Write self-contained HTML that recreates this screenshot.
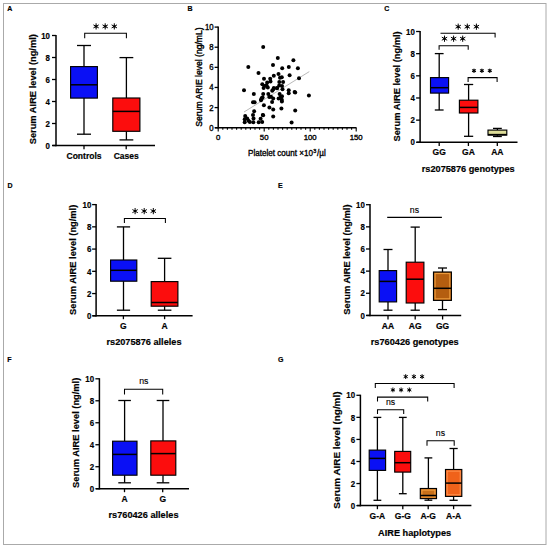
<!DOCTYPE html>
<html><head><meta charset="utf-8"><style>
html,body{margin:0;padding:0;background:#fff;width:550px;height:549px;overflow:hidden;}
body{position:relative;}
svg text{font-family:"Liberation Sans", sans-serif;}

</style></head><body>
<svg width="550" height="549" viewBox="0 0 550 549" style="position:absolute;left:0;top:0">
<rect x="0" y="0" width="550" height="549" fill="#fff"/>
<rect x="3.5" y="3.5" width="542.5" height="541" fill="none" stroke="#aaa" stroke-width="1"/>
<text x="0" y="2.52" font-size="7" font-weight="bold" text-anchor="middle" fill="#000" transform="translate(9.70 8.40)" stroke="#000" stroke-width="0.18">A</text>
<line x1="56.00" y1="34.90" x2="56.00" y2="146.25" stroke="#000" stroke-width="1.5"/>
<line x1="52.50" y1="145.50" x2="155.00" y2="145.50" stroke="#000" stroke-width="1.5"/>
<line x1="52.00" y1="145.50" x2="56.00" y2="145.50" stroke="#000" stroke-width="1.3"/>
<text x="0" y="3.17" font-size="8.8" font-weight="bold" text-anchor="end" fill="#000" transform="translate(50.00 145.50) scale(0.9 1)" stroke="#000" stroke-width="0.18">0</text>
<line x1="52.00" y1="123.50" x2="56.00" y2="123.50" stroke="#000" stroke-width="1.3"/>
<text x="0" y="3.17" font-size="8.8" font-weight="bold" text-anchor="end" fill="#000" transform="translate(50.00 123.50) scale(0.9 1)" stroke="#000" stroke-width="0.18">2</text>
<line x1="52.00" y1="101.50" x2="56.00" y2="101.50" stroke="#000" stroke-width="1.3"/>
<text x="0" y="3.17" font-size="8.8" font-weight="bold" text-anchor="end" fill="#000" transform="translate(50.00 101.50) scale(0.9 1)" stroke="#000" stroke-width="0.18">4</text>
<line x1="52.00" y1="79.50" x2="56.00" y2="79.50" stroke="#000" stroke-width="1.3"/>
<text x="0" y="3.17" font-size="8.8" font-weight="bold" text-anchor="end" fill="#000" transform="translate(50.00 79.50) scale(0.9 1)" stroke="#000" stroke-width="0.18">6</text>
<line x1="52.00" y1="57.50" x2="56.00" y2="57.50" stroke="#000" stroke-width="1.3"/>
<text x="0" y="3.17" font-size="8.8" font-weight="bold" text-anchor="end" fill="#000" transform="translate(50.00 57.50) scale(0.9 1)" stroke="#000" stroke-width="0.18">8</text>
<line x1="52.00" y1="35.50" x2="56.00" y2="35.50" stroke="#000" stroke-width="1.3"/>
<text x="0" y="3.17" font-size="8.8" font-weight="bold" text-anchor="end" fill="#000" transform="translate(50.00 35.50) scale(0.9 1)" stroke="#000" stroke-width="0.18">10</text>
<line x1="84.00" y1="45.50" x2="84.00" y2="66.60" stroke="#000" stroke-width="1.3"/>
<line x1="84.00" y1="98.10" x2="84.00" y2="134.20" stroke="#000" stroke-width="1.3"/>
<line x1="77.00" y1="45.50" x2="91.00" y2="45.50" stroke="#000" stroke-width="1.3"/>
<line x1="77.00" y1="134.20" x2="91.00" y2="134.20" stroke="#000" stroke-width="1.3"/>
<rect x="70.60" y="66.60" width="26.80" height="31.50" fill="#0a10f5" stroke="#000" stroke-width="1.15"/>
<line x1="70.60" y1="84.80" x2="97.40" y2="84.80" stroke="#000" stroke-width="1.5"/>
<line x1="126.40" y1="57.60" x2="126.40" y2="98.00" stroke="#000" stroke-width="1.3"/>
<line x1="126.40" y1="131.30" x2="126.40" y2="139.90" stroke="#000" stroke-width="1.3"/>
<line x1="119.50" y1="57.60" x2="133.30" y2="57.60" stroke="#000" stroke-width="1.3"/>
<line x1="119.50" y1="139.90" x2="133.30" y2="139.90" stroke="#000" stroke-width="1.3"/>
<rect x="112.80" y="98.00" width="27.10" height="33.30" fill="#fc0d0d" stroke="#000" stroke-width="1.15"/>
<line x1="112.80" y1="111.40" x2="139.90" y2="111.40" stroke="#000" stroke-width="1.5"/>
<line x1="84.00" y1="145.50" x2="84.00" y2="149.20" stroke="#000" stroke-width="1.3"/>
<line x1="126.20" y1="145.50" x2="126.20" y2="149.20" stroke="#000" stroke-width="1.3"/>
<text x="0" y="3.06" font-size="8.5" font-weight="bold" text-anchor="middle" fill="#000" transform="translate(84.00 155.60)" stroke="#000" stroke-width="0.18">Controls</text>
<text x="0" y="3.06" font-size="8.5" font-weight="bold" text-anchor="middle" fill="#000" transform="translate(126.20 155.60)" stroke="#000" stroke-width="0.18">Cases</text>
<path d="M84.70,38.20 L84.70,33.20 L126.40,33.20 L126.40,38.20" fill="none" stroke="#000" stroke-width="1.05"/>
<path d="M96.10,23.70L96.10,29.10M93.76,25.05L98.44,27.75M98.44,25.05L93.76,27.75M105.20,23.70L105.20,29.10M102.86,25.05L107.54,27.75M107.54,25.05L102.86,27.75M114.30,23.70L114.30,29.10M111.96,25.05L116.64,27.75M116.64,25.05L111.96,27.75" stroke="#000" stroke-width="1.0" fill="none" stroke-linecap="round"/>
<circle cx="96.10" cy="26.40" r="1.22" fill="#000"/>
<circle cx="105.20" cy="26.40" r="1.22" fill="#000"/>
<circle cx="114.30" cy="26.40" r="1.22" fill="#000"/>
<text x="0" y="3.35" font-size="9.3" font-weight="bold" text-anchor="middle" fill="#000" transform="translate(33.00 89.20) rotate(-90)" stroke="#000" stroke-width="0.18">Serum AIRE level (ng/ml)</text>
<text x="0" y="2.52" font-size="7" font-weight="bold" text-anchor="middle" fill="#000" transform="translate(190.00 8.40)" stroke="#000" stroke-width="0.18">B</text>
<line x1="218.20" y1="26.50" x2="218.20" y2="128.45" stroke="#000" stroke-width="1.5"/>
<line x1="215.00" y1="127.70" x2="356.50" y2="127.70" stroke="#000" stroke-width="1.5"/>
<line x1="214.60" y1="127.70" x2="218.20" y2="127.70" stroke="#000" stroke-width="1.3"/>
<text x="0" y="2.95" font-size="8.2" font-weight="normal" text-anchor="end" fill="#000" transform="translate(213.60 127.70) scale(0.95 1)" stroke="#000" stroke-width="0.35">0</text>
<line x1="214.60" y1="107.58" x2="218.20" y2="107.58" stroke="#000" stroke-width="1.3"/>
<text x="0" y="2.95" font-size="8.2" font-weight="normal" text-anchor="end" fill="#000" transform="translate(213.60 107.58) scale(0.95 1)" stroke="#000" stroke-width="0.35">2</text>
<line x1="214.60" y1="87.46" x2="218.20" y2="87.46" stroke="#000" stroke-width="1.3"/>
<text x="0" y="2.95" font-size="8.2" font-weight="normal" text-anchor="end" fill="#000" transform="translate(213.60 87.46) scale(0.95 1)" stroke="#000" stroke-width="0.35">4</text>
<line x1="214.60" y1="67.34" x2="218.20" y2="67.34" stroke="#000" stroke-width="1.3"/>
<text x="0" y="2.95" font-size="8.2" font-weight="normal" text-anchor="end" fill="#000" transform="translate(213.60 67.34) scale(0.95 1)" stroke="#000" stroke-width="0.35">6</text>
<line x1="214.60" y1="47.22" x2="218.20" y2="47.22" stroke="#000" stroke-width="1.3"/>
<text x="0" y="2.95" font-size="8.2" font-weight="normal" text-anchor="end" fill="#000" transform="translate(213.60 47.22) scale(0.95 1)" stroke="#000" stroke-width="0.35">8</text>
<line x1="214.60" y1="27.10" x2="218.20" y2="27.10" stroke="#000" stroke-width="1.3"/>
<text x="0" y="2.95" font-size="8.2" font-weight="normal" text-anchor="end" fill="#000" transform="translate(213.60 27.10) scale(0.95 1)" stroke="#000" stroke-width="0.35">10</text>
<line x1="218.20" y1="127.70" x2="218.20" y2="131.50" stroke="#000" stroke-width="1.1"/>
<line x1="222.80" y1="127.70" x2="222.80" y2="129.70" stroke="#000" stroke-width="1.1"/>
<line x1="227.40" y1="127.70" x2="227.40" y2="129.70" stroke="#000" stroke-width="1.1"/>
<line x1="232.00" y1="127.70" x2="232.00" y2="129.70" stroke="#000" stroke-width="1.1"/>
<line x1="236.60" y1="127.70" x2="236.60" y2="129.70" stroke="#000" stroke-width="1.1"/>
<line x1="241.20" y1="127.70" x2="241.20" y2="129.70" stroke="#000" stroke-width="1.1"/>
<line x1="245.80" y1="127.70" x2="245.80" y2="129.70" stroke="#000" stroke-width="1.1"/>
<line x1="250.40" y1="127.70" x2="250.40" y2="129.70" stroke="#000" stroke-width="1.1"/>
<line x1="255.00" y1="127.70" x2="255.00" y2="129.70" stroke="#000" stroke-width="1.1"/>
<line x1="259.60" y1="127.70" x2="259.60" y2="129.70" stroke="#000" stroke-width="1.1"/>
<line x1="264.20" y1="127.70" x2="264.20" y2="131.50" stroke="#000" stroke-width="1.1"/>
<line x1="268.80" y1="127.70" x2="268.80" y2="129.70" stroke="#000" stroke-width="1.1"/>
<line x1="273.40" y1="127.70" x2="273.40" y2="129.70" stroke="#000" stroke-width="1.1"/>
<line x1="278.00" y1="127.70" x2="278.00" y2="129.70" stroke="#000" stroke-width="1.1"/>
<line x1="282.60" y1="127.70" x2="282.60" y2="129.70" stroke="#000" stroke-width="1.1"/>
<line x1="287.20" y1="127.70" x2="287.20" y2="129.70" stroke="#000" stroke-width="1.1"/>
<line x1="291.80" y1="127.70" x2="291.80" y2="129.70" stroke="#000" stroke-width="1.1"/>
<line x1="296.40" y1="127.70" x2="296.40" y2="129.70" stroke="#000" stroke-width="1.1"/>
<line x1="301.00" y1="127.70" x2="301.00" y2="129.70" stroke="#000" stroke-width="1.1"/>
<line x1="305.60" y1="127.70" x2="305.60" y2="129.70" stroke="#000" stroke-width="1.1"/>
<line x1="310.20" y1="127.70" x2="310.20" y2="131.50" stroke="#000" stroke-width="1.1"/>
<line x1="314.80" y1="127.70" x2="314.80" y2="129.70" stroke="#000" stroke-width="1.1"/>
<line x1="319.40" y1="127.70" x2="319.40" y2="129.70" stroke="#000" stroke-width="1.1"/>
<line x1="324.00" y1="127.70" x2="324.00" y2="129.70" stroke="#000" stroke-width="1.1"/>
<line x1="328.60" y1="127.70" x2="328.60" y2="129.70" stroke="#000" stroke-width="1.1"/>
<line x1="333.20" y1="127.70" x2="333.20" y2="129.70" stroke="#000" stroke-width="1.1"/>
<line x1="337.80" y1="127.70" x2="337.80" y2="129.70" stroke="#000" stroke-width="1.1"/>
<line x1="342.40" y1="127.70" x2="342.40" y2="129.70" stroke="#000" stroke-width="1.1"/>
<line x1="347.00" y1="127.70" x2="347.00" y2="129.70" stroke="#000" stroke-width="1.1"/>
<line x1="351.60" y1="127.70" x2="351.60" y2="129.70" stroke="#000" stroke-width="1.1"/>
<line x1="356.20" y1="127.70" x2="356.20" y2="131.50" stroke="#000" stroke-width="1.1"/>
<text x="0" y="2.81" font-size="7.8" font-weight="normal" text-anchor="middle" fill="#000" transform="translate(218.20 137.60)" stroke="#000" stroke-width="0.35">0</text>
<text x="0" y="2.81" font-size="7.8" font-weight="normal" text-anchor="middle" fill="#000" transform="translate(264.20 137.60)" stroke="#000" stroke-width="0.35">50</text>
<text x="0" y="2.81" font-size="7.8" font-weight="normal" text-anchor="middle" fill="#000" transform="translate(310.20 137.60)" stroke="#000" stroke-width="0.35">100</text>
<text x="0" y="2.81" font-size="7.8" font-weight="normal" text-anchor="middle" fill="#000" transform="translate(356.20 137.60)" stroke="#000" stroke-width="0.35">150</text>
<text x="0" y="3.17" font-size="8.8" font-weight="normal" text-anchor="middle" fill="#000" transform="translate(286.90 152.80) scale(0.92 1)" stroke="#000" stroke-width="0.35">Platelet count ×10<tspan font-size="6" dy="-3.2" dx="0.4">3</tspan><tspan dy="3.2" dx="0.6">/µl</tspan></text>
<text x="0" y="3.10" font-size="8.6" font-weight="normal" text-anchor="middle" fill="#000" transform="translate(198.50 77.00) rotate(-90)" stroke="#000" stroke-width="0.4">Serum ARIE level (ng/mL)</text>
<line x1="244.00" y1="112.00" x2="309.30" y2="71.60" stroke="#888" stroke-width="0.6"/>
<circle cx="263.20" cy="47.10" r="2.0" fill="#000"/>
<circle cx="277.80" cy="58.00" r="2.0" fill="#000"/>
<circle cx="293.40" cy="60.20" r="2.0" fill="#000"/>
<circle cx="248.30" cy="67.10" r="2.0" fill="#000"/>
<circle cx="273.00" cy="65.10" r="2.0" fill="#000"/>
<circle cx="282.20" cy="68.20" r="2.0" fill="#000"/>
<circle cx="288.80" cy="67.10" r="2.0" fill="#000"/>
<circle cx="258.50" cy="73.10" r="2.0" fill="#000"/>
<circle cx="289.60" cy="75.20" r="2.0" fill="#000"/>
<circle cx="278.50" cy="73.90" r="2.0" fill="#000"/>
<circle cx="273.80" cy="75.80" r="2.0" fill="#000"/>
<circle cx="264.00" cy="78.80" r="2.0" fill="#000"/>
<circle cx="270.20" cy="78.80" r="2.0" fill="#000"/>
<circle cx="280.00" cy="77.70" r="2.0" fill="#000"/>
<circle cx="262.30" cy="84.30" r="2.0" fill="#000"/>
<circle cx="267.20" cy="82.40" r="2.0" fill="#000"/>
<circle cx="270.50" cy="81.50" r="2.0" fill="#000"/>
<circle cx="279.30" cy="82.10" r="2.0" fill="#000"/>
<circle cx="283.10" cy="82.10" r="2.0" fill="#000"/>
<circle cx="263.60" cy="88.10" r="2.0" fill="#000"/>
<circle cx="267.80" cy="87.50" r="2.0" fill="#000"/>
<circle cx="273.80" cy="88.10" r="2.0" fill="#000"/>
<circle cx="277.10" cy="88.10" r="2.0" fill="#000"/>
<circle cx="282.00" cy="85.90" r="2.0" fill="#000"/>
<circle cx="282.50" cy="89.20" r="2.0" fill="#000"/>
<circle cx="244.00" cy="90.30" r="2.0" fill="#000"/>
<circle cx="253.80" cy="94.10" r="2.0" fill="#000"/>
<circle cx="272.20" cy="90.80" r="2.0" fill="#000"/>
<circle cx="288.70" cy="90.20" r="2.0" fill="#000"/>
<circle cx="288.70" cy="93.20" r="2.0" fill="#000"/>
<circle cx="294.60" cy="91.90" r="2.0" fill="#000"/>
<circle cx="263.20" cy="94.10" r="2.0" fill="#000"/>
<circle cx="268.30" cy="94.10" r="2.0" fill="#000"/>
<circle cx="279.60" cy="94.10" r="2.0" fill="#000"/>
<circle cx="282.00" cy="96.30" r="2.0" fill="#000"/>
<circle cx="261.80" cy="97.90" r="2.0" fill="#000"/>
<circle cx="271.00" cy="96.80" r="2.0" fill="#000"/>
<circle cx="253.00" cy="102.30" r="2.0" fill="#000"/>
<circle cx="254.60" cy="102.30" r="2.0" fill="#000"/>
<circle cx="263.90" cy="105.20" r="2.0" fill="#000"/>
<circle cx="269.40" cy="107.40" r="2.0" fill="#000"/>
<circle cx="273.20" cy="109.50" r="2.0" fill="#000"/>
<circle cx="281.40" cy="108.50" r="2.0" fill="#000"/>
<circle cx="254.10" cy="111.20" r="2.0" fill="#000"/>
<circle cx="262.80" cy="115.00" r="2.0" fill="#000"/>
<circle cx="273.20" cy="116.60" r="2.0" fill="#000"/>
<circle cx="245.20" cy="116.00" r="2.0" fill="#000"/>
<circle cx="244.70" cy="119.20" r="2.0" fill="#000"/>
<circle cx="244.70" cy="122.20" r="2.0" fill="#000"/>
<circle cx="248.50" cy="120.80" r="2.0" fill="#000"/>
<circle cx="253.00" cy="115.00" r="2.0" fill="#000"/>
<circle cx="253.50" cy="118.50" r="2.0" fill="#000"/>
<circle cx="253.30" cy="122.20" r="2.0" fill="#000"/>
<circle cx="258.70" cy="122.20" r="2.0" fill="#000"/>
<circle cx="260.60" cy="118.80" r="2.0" fill="#000"/>
<circle cx="262.20" cy="122.00" r="2.0" fill="#000"/>
<circle cx="263.10" cy="115.30" r="2.0" fill="#000"/>
<circle cx="261.20" cy="99.20" r="2.0" fill="#000"/>
<circle cx="273.20" cy="98.60" r="2.0" fill="#000"/>
<circle cx="272.10" cy="101.90" r="2.0" fill="#000"/>
<circle cx="280.80" cy="97.00" r="2.0" fill="#000"/>
<circle cx="278.60" cy="98.60" r="2.0" fill="#000"/>
<circle cx="281.90" cy="101.40" r="2.0" fill="#000"/>
<circle cx="264.50" cy="86.10" r="2.0" fill="#000"/>
<circle cx="273.20" cy="89.40" r="2.0" fill="#000"/>
<circle cx="277.00" cy="88.30" r="2.0" fill="#000"/>
<circle cx="281.80" cy="77.30" r="2.0" fill="#000"/>
<circle cx="279.20" cy="85.50" r="2.0" fill="#000"/>
<circle cx="266.50" cy="85.20" r="2.0" fill="#000"/>
<circle cx="269.30" cy="97.00" r="2.0" fill="#000"/>
<circle cx="262.60" cy="97.40" r="2.0" fill="#000"/>
<circle cx="281.80" cy="99.80" r="2.0" fill="#000"/>
<circle cx="297.90" cy="68.20" r="2.0" fill="#000"/>
<circle cx="299.00" cy="78.20" r="2.0" fill="#000"/>
<circle cx="295.20" cy="92.50" r="2.0" fill="#000"/>
<circle cx="308.90" cy="95.40" r="2.0" fill="#000"/>
<circle cx="295.20" cy="110.50" r="2.0" fill="#000"/>
<circle cx="291.60" cy="122.50" r="2.0" fill="#000"/>
<circle cx="261.00" cy="100.30" r="2.0" fill="#000"/>
<circle cx="249.80" cy="122.00" r="2.0" fill="#000"/>
<circle cx="247.20" cy="118.60" r="2.0" fill="#000"/>
<text x="0" y="2.52" font-size="7" font-weight="bold" text-anchor="middle" fill="#000" transform="translate(386.90 8.40)" stroke="#000" stroke-width="0.18">C</text>
<line x1="420.10" y1="30.90" x2="420.10" y2="143.05" stroke="#000" stroke-width="1.5"/>
<line x1="416.60" y1="142.30" x2="517.50" y2="142.30" stroke="#000" stroke-width="1.5"/>
<line x1="416.10" y1="142.30" x2="420.10" y2="142.30" stroke="#000" stroke-width="1.3"/>
<text x="0" y="3.17" font-size="8.8" font-weight="bold" text-anchor="end" fill="#000" transform="translate(414.80 142.30) scale(0.9 1)" stroke="#000" stroke-width="0.18">0</text>
<line x1="416.10" y1="120.14" x2="420.10" y2="120.14" stroke="#000" stroke-width="1.3"/>
<text x="0" y="3.17" font-size="8.8" font-weight="bold" text-anchor="end" fill="#000" transform="translate(414.80 120.14) scale(0.9 1)" stroke="#000" stroke-width="0.18">2</text>
<line x1="416.10" y1="97.98" x2="420.10" y2="97.98" stroke="#000" stroke-width="1.3"/>
<text x="0" y="3.17" font-size="8.8" font-weight="bold" text-anchor="end" fill="#000" transform="translate(414.80 97.98) scale(0.9 1)" stroke="#000" stroke-width="0.18">4</text>
<line x1="416.10" y1="75.82" x2="420.10" y2="75.82" stroke="#000" stroke-width="1.3"/>
<text x="0" y="3.17" font-size="8.8" font-weight="bold" text-anchor="end" fill="#000" transform="translate(414.80 75.82) scale(0.9 1)" stroke="#000" stroke-width="0.18">6</text>
<line x1="416.10" y1="53.66" x2="420.10" y2="53.66" stroke="#000" stroke-width="1.3"/>
<text x="0" y="3.17" font-size="8.8" font-weight="bold" text-anchor="end" fill="#000" transform="translate(414.80 53.66) scale(0.9 1)" stroke="#000" stroke-width="0.18">8</text>
<line x1="416.10" y1="31.50" x2="420.10" y2="31.50" stroke="#000" stroke-width="1.3"/>
<text x="0" y="3.17" font-size="8.8" font-weight="bold" text-anchor="end" fill="#000" transform="translate(414.80 31.50) scale(0.9 1)" stroke="#000" stroke-width="0.18">10</text>
<line x1="439.20" y1="53.60" x2="439.20" y2="77.60" stroke="#000" stroke-width="1.3"/>
<line x1="439.20" y1="93.10" x2="439.20" y2="110.00" stroke="#000" stroke-width="1.3"/>
<line x1="434.80" y1="53.60" x2="443.60" y2="53.60" stroke="#000" stroke-width="1.3"/>
<line x1="434.80" y1="110.00" x2="443.60" y2="110.00" stroke="#000" stroke-width="1.3"/>
<rect x="430.50" y="77.60" width="18.10" height="15.50" fill="#0a10f5" stroke="#000" stroke-width="1.15"/>
<line x1="430.50" y1="87.70" x2="448.60" y2="87.70" stroke="#000" stroke-width="1.5"/>
<line x1="468.60" y1="84.50" x2="468.60" y2="100.20" stroke="#000" stroke-width="1.3"/>
<line x1="468.60" y1="113.00" x2="468.60" y2="136.30" stroke="#000" stroke-width="1.3"/>
<line x1="464.00" y1="84.50" x2="473.20" y2="84.50" stroke="#000" stroke-width="1.3"/>
<line x1="464.00" y1="136.30" x2="473.20" y2="136.30" stroke="#000" stroke-width="1.3"/>
<rect x="459.40" y="100.20" width="18.50" height="12.80" fill="#fc0d0d" stroke="#000" stroke-width="1.15"/>
<line x1="459.40" y1="107.40" x2="477.90" y2="107.40" stroke="#000" stroke-width="1.5"/>
<line x1="497.40" y1="128.40" x2="497.40" y2="130.10" stroke="#000" stroke-width="1.3"/>
<line x1="497.40" y1="135.10" x2="497.40" y2="136.50" stroke="#000" stroke-width="1.3"/>
<line x1="493.00" y1="128.40" x2="501.80" y2="128.40" stroke="#000" stroke-width="1.3"/>
<line x1="493.00" y1="136.50" x2="501.80" y2="136.50" stroke="#000" stroke-width="1.3"/>
<rect x="488.00" y="130.10" width="18.80" height="5.00" fill="#dcdc98" stroke="#000" stroke-width="1.15"/>
<line x1="488.00" y1="134.60" x2="506.80" y2="134.60" stroke="#000" stroke-width="1.5"/>
<line x1="439.20" y1="142.30" x2="439.20" y2="146.00" stroke="#000" stroke-width="1.3"/>
<line x1="468.40" y1="142.30" x2="468.40" y2="146.00" stroke="#000" stroke-width="1.3"/>
<line x1="497.30" y1="142.30" x2="497.30" y2="146.00" stroke="#000" stroke-width="1.3"/>
<text x="0" y="3.06" font-size="8.5" font-weight="bold" text-anchor="middle" fill="#000" transform="translate(439.20 152.00)" stroke="#000" stroke-width="0.18">GG</text>
<text x="0" y="3.06" font-size="8.5" font-weight="bold" text-anchor="middle" fill="#000" transform="translate(468.40 152.00)" stroke="#000" stroke-width="0.18">GA</text>
<text x="0" y="3.06" font-size="8.5" font-weight="bold" text-anchor="middle" fill="#000" transform="translate(497.30 152.00)" stroke="#000" stroke-width="0.18">AA</text>
<text x="0" y="3.31" font-size="9.2" font-weight="bold" text-anchor="middle" fill="#000" transform="translate(468.20 169.00)" stroke="#000" stroke-width="0.18">rs2075876 genotypes</text>
<path d="M440.50,33.30 L495.10,33.30 L495.10,37.60" fill="none" stroke="#000" stroke-width="1.05"/>
<path d="M458.20,24.00L458.20,29.40M455.86,25.35L460.54,28.05M460.54,25.35L455.86,28.05M467.30,24.00L467.30,29.40M464.96,25.35L469.64,28.05M469.64,25.35L464.96,28.05M476.40,24.00L476.40,29.40M474.06,25.35L478.74,28.05M478.74,25.35L474.06,28.05" stroke="#000" stroke-width="1.0" fill="none" stroke-linecap="round"/>
<circle cx="458.20" cy="26.70" r="1.22" fill="#000"/>
<circle cx="467.30" cy="26.70" r="1.22" fill="#000"/>
<circle cx="476.40" cy="26.70" r="1.22" fill="#000"/>
<path d="M439.10,49.80 L439.10,45.80 L468.20,45.80 L468.20,49.80" fill="none" stroke="#000" stroke-width="1.05"/>
<path d="M444.50,36.00L444.50,41.40M442.16,37.35L446.84,40.05M446.84,37.35L442.16,40.05M453.60,36.00L453.60,41.40M451.26,37.35L455.94,40.05M455.94,37.35L451.26,40.05M462.70,36.00L462.70,41.40M460.36,37.35L465.04,40.05M465.04,37.35L460.36,40.05" stroke="#000" stroke-width="1.0" fill="none" stroke-linecap="round"/>
<circle cx="444.50" cy="38.70" r="1.22" fill="#000"/>
<circle cx="453.60" cy="38.70" r="1.22" fill="#000"/>
<circle cx="462.70" cy="38.70" r="1.22" fill="#000"/>
<path d="M468.10,82.00 L468.10,77.60 L497.10,77.60 L497.10,82.00" fill="none" stroke="#000" stroke-width="1.05"/>
<path d="M474.00,68.95L474.00,72.45M472.48,69.83L475.52,71.58M475.52,69.83L472.48,71.58M481.90,68.95L481.90,72.45M480.38,69.83L483.42,71.58M483.42,69.83L480.38,71.58M489.80,68.95L489.80,72.45M488.28,69.83L491.32,71.58M491.32,69.83L488.28,71.58" stroke="#000" stroke-width="1.15" fill="none" stroke-linecap="round"/>
<circle cx="474.00" cy="70.70" r="0.79" fill="#000"/>
<circle cx="481.90" cy="70.70" r="0.79" fill="#000"/>
<circle cx="489.80" cy="70.70" r="0.79" fill="#000"/>
<text x="0" y="3.35" font-size="9.3" font-weight="bold" text-anchor="middle" fill="#000" transform="translate(397.00 86.40) rotate(-90)" stroke="#000" stroke-width="0.18">Serum AIRE level (ng/ml)</text>
<text x="0" y="2.52" font-size="7" font-weight="bold" text-anchor="middle" fill="#000" transform="translate(10.10 185.70)" stroke="#000" stroke-width="0.18">D</text>
<line x1="96.10" y1="204.00" x2="96.10" y2="316.55" stroke="#000" stroke-width="1.5"/>
<line x1="92.60" y1="315.80" x2="192.60" y2="315.80" stroke="#000" stroke-width="1.5"/>
<line x1="92.10" y1="315.80" x2="96.10" y2="315.80" stroke="#000" stroke-width="1.3"/>
<text x="0" y="3.17" font-size="8.8" font-weight="bold" text-anchor="end" fill="#000" transform="translate(91.30 315.80) scale(0.9 1)" stroke="#000" stroke-width="0.18">0</text>
<line x1="92.10" y1="293.56" x2="96.10" y2="293.56" stroke="#000" stroke-width="1.3"/>
<text x="0" y="3.17" font-size="8.8" font-weight="bold" text-anchor="end" fill="#000" transform="translate(91.30 293.56) scale(0.9 1)" stroke="#000" stroke-width="0.18">2</text>
<line x1="92.10" y1="271.32" x2="96.10" y2="271.32" stroke="#000" stroke-width="1.3"/>
<text x="0" y="3.17" font-size="8.8" font-weight="bold" text-anchor="end" fill="#000" transform="translate(91.30 271.32) scale(0.9 1)" stroke="#000" stroke-width="0.18">4</text>
<line x1="92.10" y1="249.08" x2="96.10" y2="249.08" stroke="#000" stroke-width="1.3"/>
<text x="0" y="3.17" font-size="8.8" font-weight="bold" text-anchor="end" fill="#000" transform="translate(91.30 249.08) scale(0.9 1)" stroke="#000" stroke-width="0.18">6</text>
<line x1="92.10" y1="226.84" x2="96.10" y2="226.84" stroke="#000" stroke-width="1.3"/>
<text x="0" y="3.17" font-size="8.8" font-weight="bold" text-anchor="end" fill="#000" transform="translate(91.30 226.84) scale(0.9 1)" stroke="#000" stroke-width="0.18">8</text>
<line x1="92.10" y1="204.60" x2="96.10" y2="204.60" stroke="#000" stroke-width="1.3"/>
<text x="0" y="3.17" font-size="8.8" font-weight="bold" text-anchor="end" fill="#000" transform="translate(91.30 204.60) scale(0.9 1)" stroke="#000" stroke-width="0.18">10</text>
<line x1="123.50" y1="226.90" x2="123.50" y2="260.00" stroke="#000" stroke-width="1.3"/>
<line x1="123.50" y1="281.20" x2="123.50" y2="310.20" stroke="#000" stroke-width="1.3"/>
<line x1="116.90" y1="226.90" x2="130.10" y2="226.90" stroke="#000" stroke-width="1.3"/>
<line x1="116.90" y1="310.20" x2="130.10" y2="310.20" stroke="#000" stroke-width="1.3"/>
<rect x="110.60" y="260.00" width="26.20" height="21.20" fill="#0a10f5" stroke="#000" stroke-width="1.15"/>
<line x1="110.60" y1="270.30" x2="136.80" y2="270.30" stroke="#000" stroke-width="1.5"/>
<line x1="164.60" y1="258.30" x2="164.60" y2="281.60" stroke="#000" stroke-width="1.3"/>
<line x1="164.60" y1="306.20" x2="164.60" y2="310.20" stroke="#000" stroke-width="1.3"/>
<line x1="157.80" y1="258.30" x2="171.40" y2="258.30" stroke="#000" stroke-width="1.3"/>
<line x1="157.80" y1="310.20" x2="171.40" y2="310.20" stroke="#000" stroke-width="1.3"/>
<rect x="151.20" y="281.60" width="26.70" height="24.60" fill="#fc0d0d" stroke="#000" stroke-width="1.15"/>
<line x1="151.20" y1="302.50" x2="177.90" y2="302.50" stroke="#000" stroke-width="1.5"/>
<line x1="123.40" y1="315.80" x2="123.40" y2="319.20" stroke="#000" stroke-width="1.3"/>
<line x1="164.60" y1="315.80" x2="164.60" y2="319.20" stroke="#000" stroke-width="1.3"/>
<text x="0" y="3.06" font-size="8.5" font-weight="bold" text-anchor="middle" fill="#000" transform="translate(123.40 325.70)" stroke="#000" stroke-width="0.18">G</text>
<text x="0" y="3.06" font-size="8.5" font-weight="bold" text-anchor="middle" fill="#000" transform="translate(164.60 325.70)" stroke="#000" stroke-width="0.18">A</text>
<text x="0" y="3.31" font-size="9.2" font-weight="bold" text-anchor="middle" fill="#000" transform="translate(144.00 341.90)" stroke="#000" stroke-width="0.18">rs2075876 alleles</text>
<path d="M124.40,222.90 L124.40,218.40 L165.40,218.40 L165.40,222.90" fill="none" stroke="#000" stroke-width="1.05"/>
<path d="M135.10,208.40L135.10,213.80M132.76,209.75L137.44,212.45M137.44,209.75L132.76,212.45M144.20,208.40L144.20,213.80M141.86,209.75L146.54,212.45M146.54,209.75L141.86,212.45M153.30,208.40L153.30,213.80M150.96,209.75L155.64,212.45M155.64,209.75L150.96,212.45" stroke="#000" stroke-width="1.0" fill="none" stroke-linecap="round"/>
<circle cx="135.10" cy="211.10" r="1.22" fill="#000"/>
<circle cx="144.20" cy="211.10" r="1.22" fill="#000"/>
<circle cx="153.30" cy="211.10" r="1.22" fill="#000"/>
<text x="0" y="3.35" font-size="9.3" font-weight="bold" text-anchor="middle" fill="#000" transform="translate(72.60 259.80) rotate(-90)" stroke="#000" stroke-width="0.18">Serum AIRE level (ng/ml)</text>
<text x="0" y="2.52" font-size="7" font-weight="bold" text-anchor="middle" fill="#000" transform="translate(280.30 185.80)" stroke="#000" stroke-width="0.18">E</text>
<line x1="370.00" y1="204.10" x2="370.00" y2="316.15" stroke="#000" stroke-width="1.5"/>
<line x1="366.50" y1="315.40" x2="461.20" y2="315.40" stroke="#000" stroke-width="1.5"/>
<line x1="366.00" y1="315.40" x2="370.00" y2="315.40" stroke="#000" stroke-width="1.3"/>
<text x="0" y="3.17" font-size="8.8" font-weight="bold" text-anchor="end" fill="#000" transform="translate(364.80 315.40) scale(0.9 1)" stroke="#000" stroke-width="0.18">0</text>
<line x1="366.00" y1="293.26" x2="370.00" y2="293.26" stroke="#000" stroke-width="1.3"/>
<text x="0" y="3.17" font-size="8.8" font-weight="bold" text-anchor="end" fill="#000" transform="translate(364.80 293.26) scale(0.9 1)" stroke="#000" stroke-width="0.18">2</text>
<line x1="366.00" y1="271.12" x2="370.00" y2="271.12" stroke="#000" stroke-width="1.3"/>
<text x="0" y="3.17" font-size="8.8" font-weight="bold" text-anchor="end" fill="#000" transform="translate(364.80 271.12) scale(0.9 1)" stroke="#000" stroke-width="0.18">4</text>
<line x1="366.00" y1="248.98" x2="370.00" y2="248.98" stroke="#000" stroke-width="1.3"/>
<text x="0" y="3.17" font-size="8.8" font-weight="bold" text-anchor="end" fill="#000" transform="translate(364.80 248.98) scale(0.9 1)" stroke="#000" stroke-width="0.18">6</text>
<line x1="366.00" y1="226.84" x2="370.00" y2="226.84" stroke="#000" stroke-width="1.3"/>
<text x="0" y="3.17" font-size="8.8" font-weight="bold" text-anchor="end" fill="#000" transform="translate(364.80 226.84) scale(0.9 1)" stroke="#000" stroke-width="0.18">8</text>
<line x1="366.00" y1="204.70" x2="370.00" y2="204.70" stroke="#000" stroke-width="1.3"/>
<text x="0" y="3.17" font-size="8.8" font-weight="bold" text-anchor="end" fill="#000" transform="translate(364.80 204.70) scale(0.9 1)" stroke="#000" stroke-width="0.18">10</text>
<line x1="388.00" y1="249.50" x2="388.00" y2="270.60" stroke="#000" stroke-width="1.3"/>
<line x1="388.00" y1="301.90" x2="388.00" y2="310.20" stroke="#000" stroke-width="1.3"/>
<line x1="383.50" y1="249.50" x2="392.50" y2="249.50" stroke="#000" stroke-width="1.3"/>
<line x1="383.50" y1="310.20" x2="392.50" y2="310.20" stroke="#000" stroke-width="1.3"/>
<rect x="379.20" y="270.60" width="17.40" height="31.30" fill="#0a10f5" stroke="#000" stroke-width="1.15"/>
<line x1="379.20" y1="281.40" x2="396.60" y2="281.40" stroke="#000" stroke-width="1.5"/>
<line x1="415.20" y1="227.10" x2="415.20" y2="262.20" stroke="#000" stroke-width="1.3"/>
<line x1="415.20" y1="303.00" x2="415.20" y2="310.20" stroke="#000" stroke-width="1.3"/>
<line x1="410.60" y1="227.10" x2="419.80" y2="227.10" stroke="#000" stroke-width="1.3"/>
<line x1="410.60" y1="310.20" x2="419.80" y2="310.20" stroke="#000" stroke-width="1.3"/>
<rect x="406.20" y="262.20" width="17.70" height="40.80" fill="#fc0d0d" stroke="#000" stroke-width="1.15"/>
<line x1="406.20" y1="279.20" x2="423.90" y2="279.20" stroke="#000" stroke-width="1.5"/>
<line x1="442.50" y1="268.00" x2="442.50" y2="272.00" stroke="#000" stroke-width="1.3"/>
<line x1="442.50" y1="300.40" x2="442.50" y2="309.60" stroke="#000" stroke-width="1.3"/>
<line x1="438.00" y1="268.00" x2="447.00" y2="268.00" stroke="#000" stroke-width="1.3"/>
<line x1="438.00" y1="309.60" x2="447.00" y2="309.60" stroke="#000" stroke-width="1.3"/>
<rect x="433.50" y="272.00" width="17.90" height="28.40" fill="#b45e10" stroke="#000" stroke-width="1.15"/>
<rect x="435.10" y="273.60" width="14.70" height="25.20" fill="none" stroke="#f0a040" stroke-width="1"/>
<line x1="433.50" y1="288.30" x2="451.40" y2="288.30" stroke="#000" stroke-width="1.5"/>
<line x1="388.00" y1="315.40" x2="388.00" y2="319.50" stroke="#000" stroke-width="1.3"/>
<line x1="415.20" y1="315.40" x2="415.20" y2="319.50" stroke="#000" stroke-width="1.3"/>
<line x1="442.60" y1="315.40" x2="442.60" y2="319.50" stroke="#000" stroke-width="1.3"/>
<text x="0" y="3.06" font-size="8.5" font-weight="bold" text-anchor="middle" fill="#000" transform="translate(388.00 325.50)" stroke="#000" stroke-width="0.18">AA</text>
<text x="0" y="3.06" font-size="8.5" font-weight="bold" text-anchor="middle" fill="#000" transform="translate(415.20 325.50)" stroke="#000" stroke-width="0.18">AG</text>
<text x="0" y="3.06" font-size="8.5" font-weight="bold" text-anchor="middle" fill="#000" transform="translate(442.60 325.50)" stroke="#000" stroke-width="0.18">GG</text>
<text x="0" y="3.31" font-size="9.2" font-weight="bold" text-anchor="middle" fill="#000" transform="translate(414.70 341.80)" stroke="#000" stroke-width="0.18">rs760426 genotypes</text>
<line x1="387.20" y1="217.30" x2="441.90" y2="217.30" stroke="#000" stroke-width="1.3"/>
<text x="0" y="3.42" font-size="9.5" font-weight="normal" text-anchor="middle" fill="#000" transform="translate(414.40 209.30) scale(0.92 1)" stroke="#000" stroke-width="0.15">ns</text>
<text x="0" y="3.35" font-size="9.3" font-weight="bold" text-anchor="middle" fill="#000" transform="translate(346.30 259.60) rotate(-90)" stroke="#000" stroke-width="0.18">Serum AIRE level (ng/ml)</text>
<text x="0" y="2.52" font-size="7" font-weight="bold" text-anchor="middle" fill="#000" transform="translate(9.40 359.30)" stroke="#000" stroke-width="0.18">F</text>
<line x1="99.40" y1="378.20" x2="99.40" y2="489.45" stroke="#000" stroke-width="1.5"/>
<line x1="95.90" y1="488.70" x2="189.00" y2="488.70" stroke="#000" stroke-width="1.5"/>
<line x1="95.40" y1="488.70" x2="99.40" y2="488.70" stroke="#000" stroke-width="1.3"/>
<text x="0" y="3.17" font-size="8.8" font-weight="bold" text-anchor="end" fill="#000" transform="translate(94.10 488.70) scale(0.9 1)" stroke="#000" stroke-width="0.18">0</text>
<line x1="95.40" y1="466.72" x2="99.40" y2="466.72" stroke="#000" stroke-width="1.3"/>
<text x="0" y="3.17" font-size="8.8" font-weight="bold" text-anchor="end" fill="#000" transform="translate(94.10 466.72) scale(0.9 1)" stroke="#000" stroke-width="0.18">2</text>
<line x1="95.40" y1="444.74" x2="99.40" y2="444.74" stroke="#000" stroke-width="1.3"/>
<text x="0" y="3.17" font-size="8.8" font-weight="bold" text-anchor="end" fill="#000" transform="translate(94.10 444.74) scale(0.9 1)" stroke="#000" stroke-width="0.18">4</text>
<line x1="95.40" y1="422.76" x2="99.40" y2="422.76" stroke="#000" stroke-width="1.3"/>
<text x="0" y="3.17" font-size="8.8" font-weight="bold" text-anchor="end" fill="#000" transform="translate(94.10 422.76) scale(0.9 1)" stroke="#000" stroke-width="0.18">6</text>
<line x1="95.40" y1="400.78" x2="99.40" y2="400.78" stroke="#000" stroke-width="1.3"/>
<text x="0" y="3.17" font-size="8.8" font-weight="bold" text-anchor="end" fill="#000" transform="translate(94.10 400.78) scale(0.9 1)" stroke="#000" stroke-width="0.18">8</text>
<line x1="95.40" y1="378.80" x2="99.40" y2="378.80" stroke="#000" stroke-width="1.3"/>
<text x="0" y="3.17" font-size="8.8" font-weight="bold" text-anchor="end" fill="#000" transform="translate(94.10 378.80) scale(0.9 1)" stroke="#000" stroke-width="0.18">10</text>
<line x1="124.60" y1="400.50" x2="124.60" y2="441.20" stroke="#000" stroke-width="1.3"/>
<line x1="124.60" y1="475.20" x2="124.60" y2="482.80" stroke="#000" stroke-width="1.3"/>
<line x1="118.30" y1="400.50" x2="130.90" y2="400.50" stroke="#000" stroke-width="1.3"/>
<line x1="118.30" y1="482.80" x2="130.90" y2="482.80" stroke="#000" stroke-width="1.3"/>
<rect x="112.60" y="441.20" width="24.40" height="34.00" fill="#0a10f5" stroke="#000" stroke-width="1.15"/>
<line x1="112.60" y1="454.40" x2="137.00" y2="454.40" stroke="#000" stroke-width="1.5"/>
<line x1="163.00" y1="400.50" x2="163.00" y2="440.90" stroke="#000" stroke-width="1.3"/>
<line x1="163.00" y1="475.20" x2="163.00" y2="482.80" stroke="#000" stroke-width="1.3"/>
<line x1="156.70" y1="400.50" x2="169.30" y2="400.50" stroke="#000" stroke-width="1.3"/>
<line x1="156.70" y1="482.80" x2="169.30" y2="482.80" stroke="#000" stroke-width="1.3"/>
<rect x="150.80" y="440.90" width="25.00" height="34.30" fill="#fc0d0d" stroke="#000" stroke-width="1.15"/>
<line x1="150.80" y1="453.60" x2="175.80" y2="453.60" stroke="#000" stroke-width="1.5"/>
<line x1="124.50" y1="488.70" x2="124.50" y2="492.20" stroke="#000" stroke-width="1.3"/>
<line x1="162.70" y1="488.70" x2="162.70" y2="492.20" stroke="#000" stroke-width="1.3"/>
<text x="0" y="3.06" font-size="8.5" font-weight="bold" text-anchor="middle" fill="#000" transform="translate(124.50 499.40)" stroke="#000" stroke-width="0.18">A</text>
<text x="0" y="3.06" font-size="8.5" font-weight="bold" text-anchor="middle" fill="#000" transform="translate(162.70 499.40)" stroke="#000" stroke-width="0.18">G</text>
<text x="0" y="3.31" font-size="9.2" font-weight="bold" text-anchor="middle" fill="#000" transform="translate(143.50 515.10)" stroke="#000" stroke-width="0.18">rs760426 alleles</text>
<path d="M124.50,394.40 L124.50,389.20 L162.70,389.20 L162.70,394.40" fill="none" stroke="#000" stroke-width="1.05"/>
<text x="0" y="3.42" font-size="9.5" font-weight="normal" text-anchor="middle" fill="#000" transform="translate(143.80 381.00) scale(0.92 1)" stroke="#000" stroke-width="0.15">ns</text>
<text x="0" y="3.35" font-size="9.3" font-weight="bold" text-anchor="middle" fill="#000" transform="translate(75.60 432.80) rotate(-90)" stroke="#000" stroke-width="0.18">Serum AIRE level (ng/ml)</text>
<text x="0" y="2.52" font-size="7" font-weight="bold" text-anchor="middle" fill="#000" transform="translate(280.70 359.30)" stroke="#000" stroke-width="0.18">G</text>
<line x1="360.40" y1="394.70" x2="360.40" y2="506.35" stroke="#000" stroke-width="1.5"/>
<line x1="356.90" y1="505.60" x2="471.40" y2="505.60" stroke="#000" stroke-width="1.5"/>
<line x1="356.40" y1="505.60" x2="360.40" y2="505.60" stroke="#000" stroke-width="1.3"/>
<text x="0" y="3.17" font-size="8.8" font-weight="bold" text-anchor="end" fill="#000" transform="translate(355.10 505.60) scale(0.9 1)" stroke="#000" stroke-width="0.18">0</text>
<line x1="356.40" y1="483.54" x2="360.40" y2="483.54" stroke="#000" stroke-width="1.3"/>
<text x="0" y="3.17" font-size="8.8" font-weight="bold" text-anchor="end" fill="#000" transform="translate(355.10 483.54) scale(0.9 1)" stroke="#000" stroke-width="0.18">2</text>
<line x1="356.40" y1="461.48" x2="360.40" y2="461.48" stroke="#000" stroke-width="1.3"/>
<text x="0" y="3.17" font-size="8.8" font-weight="bold" text-anchor="end" fill="#000" transform="translate(355.10 461.48) scale(0.9 1)" stroke="#000" stroke-width="0.18">4</text>
<line x1="356.40" y1="439.42" x2="360.40" y2="439.42" stroke="#000" stroke-width="1.3"/>
<text x="0" y="3.17" font-size="8.8" font-weight="bold" text-anchor="end" fill="#000" transform="translate(355.10 439.42) scale(0.9 1)" stroke="#000" stroke-width="0.18">6</text>
<line x1="356.40" y1="417.36" x2="360.40" y2="417.36" stroke="#000" stroke-width="1.3"/>
<text x="0" y="3.17" font-size="8.8" font-weight="bold" text-anchor="end" fill="#000" transform="translate(355.10 417.36) scale(0.9 1)" stroke="#000" stroke-width="0.18">8</text>
<line x1="356.40" y1="395.30" x2="360.40" y2="395.30" stroke="#000" stroke-width="1.3"/>
<text x="0" y="3.17" font-size="8.8" font-weight="bold" text-anchor="end" fill="#000" transform="translate(355.10 395.30) scale(0.9 1)" stroke="#000" stroke-width="0.18">10</text>
<line x1="377.40" y1="417.40" x2="377.40" y2="450.10" stroke="#000" stroke-width="1.3"/>
<line x1="377.40" y1="470.40" x2="377.40" y2="500.30" stroke="#000" stroke-width="1.3"/>
<line x1="373.50" y1="417.40" x2="381.30" y2="417.40" stroke="#000" stroke-width="1.3"/>
<line x1="373.50" y1="500.30" x2="381.30" y2="500.30" stroke="#000" stroke-width="1.3"/>
<rect x="369.20" y="450.10" width="16.40" height="20.30" fill="#0a10f5" stroke="#000" stroke-width="1.15"/>
<line x1="369.20" y1="458.40" x2="385.60" y2="458.40" stroke="#000" stroke-width="1.5"/>
<line x1="402.80" y1="417.40" x2="402.80" y2="451.40" stroke="#000" stroke-width="1.3"/>
<line x1="402.80" y1="472.10" x2="402.80" y2="493.70" stroke="#000" stroke-width="1.3"/>
<line x1="398.90" y1="417.40" x2="406.70" y2="417.40" stroke="#000" stroke-width="1.3"/>
<line x1="398.90" y1="493.70" x2="406.70" y2="493.70" stroke="#000" stroke-width="1.3"/>
<rect x="394.70" y="451.40" width="16.00" height="20.70" fill="#fc0d0d" stroke="#000" stroke-width="1.15"/>
<line x1="394.70" y1="462.70" x2="410.70" y2="462.70" stroke="#000" stroke-width="1.5"/>
<line x1="428.40" y1="457.90" x2="428.40" y2="488.50" stroke="#000" stroke-width="1.3"/>
<line x1="428.40" y1="498.60" x2="428.40" y2="500.20" stroke="#000" stroke-width="1.3"/>
<line x1="424.50" y1="457.90" x2="432.30" y2="457.90" stroke="#000" stroke-width="1.3"/>
<line x1="424.50" y1="500.20" x2="432.30" y2="500.20" stroke="#000" stroke-width="1.3"/>
<rect x="420.30" y="488.50" width="16.20" height="10.10" fill="#c8701a" stroke="#000" stroke-width="1.15"/>
<rect x="421.90" y="490.10" width="13.00" height="6.90" fill="none" stroke="#f5a040" stroke-width="1"/>
<line x1="420.30" y1="495.50" x2="436.50" y2="495.50" stroke="#000" stroke-width="1.5"/>
<line x1="453.60" y1="448.50" x2="453.60" y2="469.50" stroke="#000" stroke-width="1.3"/>
<line x1="453.60" y1="496.40" x2="453.60" y2="500.30" stroke="#000" stroke-width="1.3"/>
<line x1="449.50" y1="448.50" x2="457.70" y2="448.50" stroke="#000" stroke-width="1.3"/>
<line x1="449.50" y1="500.30" x2="457.70" y2="500.30" stroke="#000" stroke-width="1.3"/>
<rect x="445.50" y="469.50" width="16.30" height="26.90" fill="#f0621a" stroke="#000" stroke-width="1.15"/>
<rect x="447.10" y="471.10" width="13.10" height="23.70" fill="none" stroke="#ff9450" stroke-width="1"/>
<line x1="445.50" y1="483.10" x2="461.80" y2="483.10" stroke="#000" stroke-width="1.5"/>
<line x1="377.40" y1="505.60" x2="377.40" y2="509.20" stroke="#000" stroke-width="1.3"/>
<line x1="402.80" y1="505.60" x2="402.80" y2="509.20" stroke="#000" stroke-width="1.3"/>
<line x1="428.20" y1="505.60" x2="428.20" y2="509.20" stroke="#000" stroke-width="1.3"/>
<line x1="453.60" y1="505.60" x2="453.60" y2="509.20" stroke="#000" stroke-width="1.3"/>
<text x="0" y="3.06" font-size="8.5" font-weight="bold" text-anchor="middle" fill="#000" transform="translate(377.40 516.00)" stroke="#000" stroke-width="0.18">G-A</text>
<text x="0" y="3.06" font-size="8.5" font-weight="bold" text-anchor="middle" fill="#000" transform="translate(402.80 516.00)" stroke="#000" stroke-width="0.18">G-G</text>
<text x="0" y="3.06" font-size="8.5" font-weight="bold" text-anchor="middle" fill="#000" transform="translate(428.20 516.00)" stroke="#000" stroke-width="0.18">A-G</text>
<text x="0" y="3.06" font-size="8.5" font-weight="bold" text-anchor="middle" fill="#000" transform="translate(453.60 516.00)" stroke="#000" stroke-width="0.18">A-A</text>
<text x="0" y="3.31" font-size="9.2" font-weight="bold" text-anchor="middle" fill="#000" transform="translate(414.60 532.70)" stroke="#000" stroke-width="0.18">AIRE haplotypes</text>
<path d="M375.30,387.90 L375.30,383.50 L454.10,383.50 L454.10,387.90" fill="none" stroke="#000" stroke-width="1.05"/>
<path d="M405.70,374.60L405.70,378.60M403.97,375.60L407.43,377.60M407.43,375.60L403.97,377.60M413.90,374.60L413.90,378.60M412.17,375.60L415.63,377.60M415.63,375.60L412.17,377.60M422.10,374.60L422.10,378.60M420.37,375.60L423.83,377.60M423.83,375.60L420.37,377.60" stroke="#000" stroke-width="1.0" fill="none" stroke-linecap="round"/>
<circle cx="405.70" cy="376.60" r="0.90" fill="#000"/>
<circle cx="413.90" cy="376.60" r="0.90" fill="#000"/>
<circle cx="422.10" cy="376.60" r="0.90" fill="#000"/>
<path d="M377.50,401.40 L377.50,397.10 L427.70,397.10 L427.70,401.40" fill="none" stroke="#000" stroke-width="1.05"/>
<path d="M392.90,387.90L392.90,391.90M391.17,388.90L394.63,390.90M394.63,388.90L391.17,390.90M401.10,387.90L401.10,391.90M399.37,388.90L402.83,390.90M402.83,388.90L399.37,390.90M409.30,387.90L409.30,391.90M407.57,388.90L411.03,390.90M411.03,388.90L407.57,390.90" stroke="#000" stroke-width="1.0" fill="none" stroke-linecap="round"/>
<circle cx="392.90" cy="389.90" r="0.90" fill="#000"/>
<circle cx="401.10" cy="389.90" r="0.90" fill="#000"/>
<circle cx="409.30" cy="389.90" r="0.90" fill="#000"/>
<path d="M377.50,414.10 L377.50,409.70 L403.70,409.70 L403.70,414.10" fill="none" stroke="#000" stroke-width="1.05"/>
<text x="0" y="3.42" font-size="9.5" font-weight="normal" text-anchor="middle" fill="#000" transform="translate(390.60 401.80) scale(0.92 1)" stroke="#000" stroke-width="0.15">ns</text>
<path d="M427.00,445.70 L427.00,440.80 L454.20,440.80 L454.20,445.70" fill="none" stroke="#000" stroke-width="1.05"/>
<text x="0" y="3.42" font-size="9.5" font-weight="normal" text-anchor="middle" fill="#000" transform="translate(440.40 432.80) scale(0.92 1)" stroke="#000" stroke-width="0.15">ns</text>
<text x="0" y="3.56" font-size="9.9" font-weight="bold" text-anchor="middle" fill="#000" transform="translate(336.80 450.10) rotate(-90)" stroke="#000" stroke-width="0.18">Serum AIRE level (ng/ml)</text>
</svg>
</body></html>
